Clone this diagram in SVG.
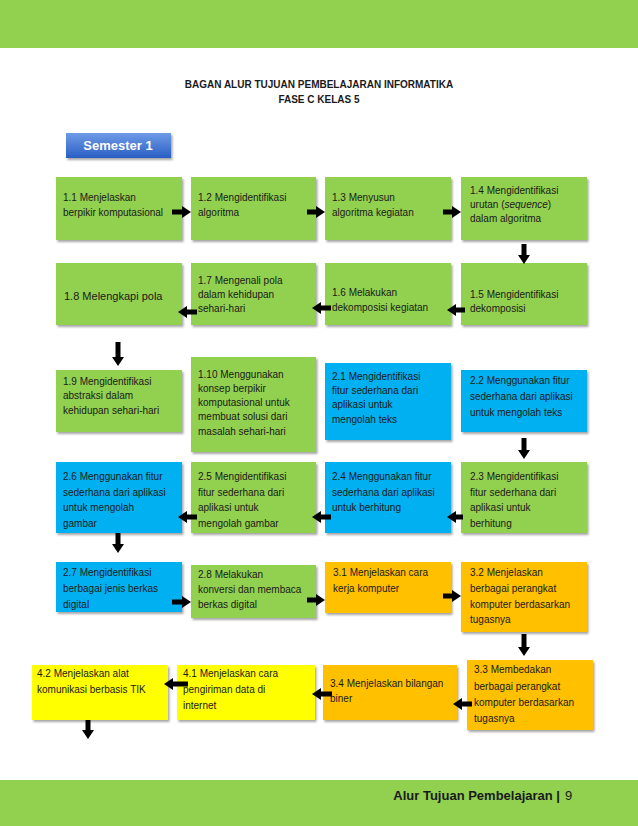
<svg xmlns="http://www.w3.org/2000/svg" width="638" height="826" viewBox="0 0 638 826">
<defs>
<marker id="ah" markerUnits="userSpaceOnUse" markerWidth="10" markerHeight="12" refX="1" refY="6" orient="auto"><path d="M0,0 L9,6 L0,12 Z" fill="#000"/></marker>
<filter id="sh" x="-5%" y="-5%" width="115%" height="120%"><feDropShadow dx="1.5" dy="2" stdDeviation="1.2" flood-color="#000" flood-opacity="0.35"/></filter>
<linearGradient id="bg" x1="0" y1="0" x2="0" y2="1"><stop offset="0" stop-color="#6f9be6"/><stop offset="1" stop-color="#2a5fc4"/></linearGradient>
</defs>
<style>
.b{filter:url(#sh)}
.g{fill:#92d050}.bl{fill:#00b0f0}.o{fill:#ffc000}.y{fill:#ffff00}
text{font-family:"Liberation Sans",Arial,sans-serif;font-size:10px;fill:#1a1a1a}
.a{stroke:#000;stroke-width:5;fill:none;marker-end:url(#ah)}
</style>
<rect x="0" y="0" width="638" height="48" fill="#92d050"/>
<rect x="0" y="780" width="638" height="46" fill="#92d050"/>
<text x="319" y="88" text-anchor="middle" font-weight="bold" style="font-size:10px">BAGAN ALUR TUJUAN PEMBELAJARAN INFORMATIKA</text>
<text x="319" y="103" text-anchor="middle" font-weight="bold" style="font-size:10px">FASE C KELAS 5</text>
<text x="560" y="800" text-anchor="end" font-weight="bold" style="font-size:13px">Alur Tujuan Pembelajaran |</text>
<text x="565" y="800" style="font-size:13px">9</text>
<g id="sem"><rect class="b" x="66" y="133" width="105" height="25" fill="url(#bg)"/><text x="118" y="150" text-anchor="middle" font-weight="bold" style="font-size:13px;fill:#fff">Semester 1</text></g>

<g id="n11"><rect class="b g" x="56" y="177" width="126" height="63"/><text x="63" y="201">1.1 Menjelaskan</text><text x="63" y="216">berpikir komputasional</text></g>
<g id="n12"><rect class="b g" x="191" y="177" width="125" height="63"/><text x="198" y="201">1.2 Mengidentifikasi</text><text x="198" y="216">algoritma</text></g>
<g id="n13"><rect class="b g" x="325" y="177" width="126" height="63"/><text x="332" y="201">1.3 Menyusun</text><text x="332" y="216">algoritma kegiatan</text></g>
<g id="n14"><rect class="b g" x="461" y="177" width="126" height="63"/><text x="470" y="194">1.4 Mengidentifikasi</text><text x="470" y="208">urutan (<tspan font-style="italic">sequence</tspan>)</text><text x="470" y="222">dalam algoritma</text></g>

<g id="n18"><rect class="b g" x="56" y="263" width="126" height="62"/><text x="64" y="300" style="font-size:11px">1.8 Melengkapi pola</text></g>
<g id="n17"><rect class="b g" x="191" y="263" width="125" height="62"/><text x="198" y="284">1.7 Mengenali pola</text><text x="198" y="298">dalam kehidupan</text><text x="198" y="312">sehari-hari</text></g>
<g id="n16"><rect class="b g" x="325" y="263" width="126" height="62"/><text x="332" y="296">1.6 Melakukan</text><text x="332" y="311">dekomposisi kegiatan</text></g>
<g id="n15"><rect class="b g" x="461" y="263" width="126" height="62"/><text x="470" y="298">1.5 Mengidentifikasi</text><text x="470" y="312">dekomposisi</text></g>

<g id="n19"><rect class="b g" x="56" y="370" width="126" height="62"/><text x="63" y="385">1.9 Mengidentifikasi</text><text x="63" y="399">abstraksi dalam</text><text x="63" y="414">kehidupan sehari-hari</text></g>
<g id="n110"><rect class="b g" x="191" y="357" width="125" height="95"/><text x="198" y="378">1.10 Menggunakan</text><text x="198" y="392">konsep berpikir</text><text x="198" y="406">komputasional untuk</text><text x="198" y="420">membuat solusi dari</text><text x="198" y="435">masalah sehari-hari</text></g>
<g id="n21"><rect class="b bl" x="325" y="363" width="126" height="77"/><text x="332" y="380">2.1 Mengidentifikasi</text><text x="332" y="394">fitur sederhana dari</text><text x="332" y="408">aplikasi untuk</text><text x="332" y="423">mengolah teks</text></g>
<g id="n22"><rect class="b bl" x="461" y="370" width="126" height="62"/><text x="470" y="384">2.2 Menggunakan fitur</text><text x="470" y="400">sederhana dari aplikasi</text><text x="470" y="416">untuk mengolah teks</text></g>

<g id="n26"><rect class="b bl" x="56" y="462" width="126" height="71"/><text x="63" y="480">2.6 Menggunakan fitur</text><text x="63" y="496">sederhana dari aplikasi</text><text x="63" y="511">untuk mengolah</text><text x="63" y="527">gambar</text></g>
<g id="n25"><rect class="b g" x="191" y="462" width="125" height="71"/><text x="198" y="480">2.5 Mengidentifikasi</text><text x="198" y="496">fitur sederhana dari</text><text x="198" y="511">aplikasi untuk</text><text x="198" y="527">mengolah gambar</text></g>
<g id="n24"><rect class="b bl" x="325" y="462" width="126" height="71"/><text x="332" y="480">2.4 Menggunakan fitur</text><text x="332" y="496">sederhana dari aplikasi</text><text x="332" y="511">untuk berhitung</text></g>
<g id="n23"><rect class="b g" x="461" y="462" width="126" height="71"/><text x="470" y="480">2.3 Mengidentifikasi</text><text x="470" y="496">fitur sederhana dari</text><text x="470" y="511">aplikasi untuk</text><text x="470" y="527">berhitung</text></g>

<g id="n27"><rect class="b bl" x="56" y="562" width="126" height="50"/><text x="63" y="576">2.7 Mengidentifikasi</text><text x="63" y="592">berbagai jenis berkas</text><text x="63" y="608">digital</text></g>
<g id="n28"><rect class="b g" x="191" y="565" width="125" height="53"/><text x="198" y="578">2.8 Melakukan</text><text x="198" y="593">konversi dan membaca</text><text x="198" y="608">berkas digital</text></g>
<g id="n31"><rect class="b o" x="325" y="562" width="126" height="51"/><text x="333" y="576">3.1 Menjelaskan cara</text><text x="333" y="592">kerja komputer</text></g>
<g id="n32"><rect class="b o" x="461" y="562" width="126" height="70"/><text x="470" y="576">3.2 Menjelaskan</text><text x="470" y="592">berbagai perangkat</text><text x="470" y="608">komputer berdasarkan</text><text x="470" y="623">tugasnya</text></g>

<g id="n42"><rect class="b y" x="32" y="665" width="136" height="55"/><text x="37" y="677">4.2 Menjelaskan alat</text><text x="37" y="693">komunikasi berbasis TIK</text></g>
<g id="n41"><rect class="b y" x="177" y="665" width="138" height="55"/><text x="183" y="677">4.1 Menjelaskan cara</text><text x="183" y="693">pengiriman data di</text><text x="183" y="709">internet</text></g>
<g id="n34"><rect class="b o" x="323" y="665" width="134" height="55"/><text x="330" y="687">3.4 Menjelaskan bilangan</text><text x="330" y="702">biner</text></g>
<g id="n33"><rect class="b o" x="467" y="660" width="126" height="70"/><text x="474" y="673">3.3 Membedakan</text><text x="474" y="690">berbagai perangkat</text><text x="474" y="706">komputer berdasarkan</text><text x="474" y="722">tugasnya</text></g>

<g id="connectors">
<line class="a" x1="172" y1="212" x2="183" y2="212"/>
<line class="a" x1="307" y1="212" x2="317" y2="212"/>
<line class="a" x1="443" y1="212" x2="453" y2="212"/>
<line class="a" x1="524" y1="244" x2="524" y2="256"/>
<line class="a" x1="465" y1="310" x2="455" y2="310"/>
<line class="a" x1="331" y1="308" x2="320" y2="308"/>
<line class="a" x1="197" y1="312" x2="186" y2="312"/>
<line class="a" x1="118" y1="342" x2="118" y2="358"/>
<line class="a" x1="524" y1="438" x2="524" y2="451"/>
<line class="a" x1="463" y1="517" x2="455" y2="517"/>
<line class="a" x1="331" y1="517" x2="320" y2="517"/>
<line class="a" x1="197" y1="517" x2="186" y2="517"/>
<line class="a" x1="118" y1="533" x2="118" y2="545"/>
<line class="a" x1="172" y1="602" x2="183" y2="602"/>
<line class="a" x1="307" y1="600" x2="317" y2="600"/>
<line class="a" x1="443" y1="596" x2="453" y2="596"/>
<line class="a" x1="524" y1="634" x2="524" y2="648"/>
<line class="a" x1="472" y1="704" x2="461" y2="704"/>
<line class="a" x1="332" y1="694" x2="320" y2="694"/>
<line class="a" x1="188" y1="684" x2="172" y2="684"/>
<line class="a" x1="88" y1="720" x2="88" y2="731"/>
</g>
</svg>
